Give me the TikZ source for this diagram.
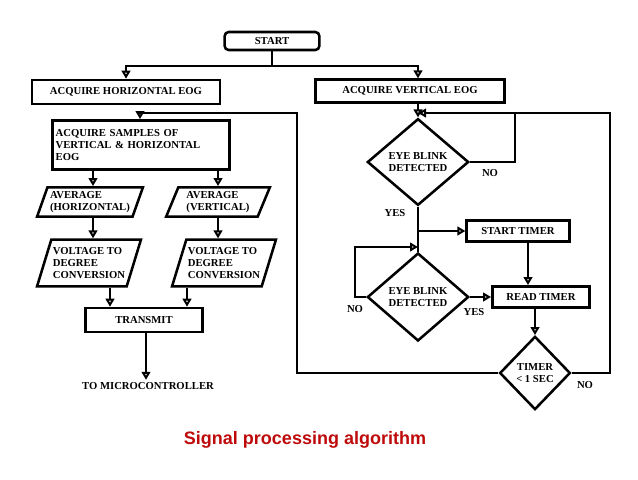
\documentclass[tikz,border=0pt]{standalone}
\usepackage{fontspec}
\setmainfont{Liberation Serif}
\newfontfamily\capfont{Liberation Sans}
\usetikzlibrary{shapes.geometric,arrows.meta}
\definecolor{capred}{RGB}{190,10,10}
\begin{document}
\begin{tikzpicture}[x=0.75pt,y=-0.75pt,
  every node/.style={font=\fontsize{8}{8.8}\selectfont\bfseries, line width=1.9pt, inner sep=1pt},
  box/.style={draw, rectangle},
  para/.style={draw, trapezium, trapezium left angle=67, trapezium right angle=113, trapezium stretches=true, align=left},
  dec/.style={draw, diamond, inner sep=0pt, align=center},
  ln/.style={line width=1.9pt},
  ar/.style={line width=1.9pt, -{Triangle[open,length=6pt,width=6.5pt]}}]
\useasboundingbox (0,0) rectangle (638,479);
% nodes
\node[box, rounded corners=3pt, minimum width=71pt, minimum height=13.5pt] (start) at (272,41) {START};
\node[box, minimum width=141pt, minimum height=18pt] (acqh) at (126,92) {ACQUIRE HORIZONTAL EOG};
\node[box, minimum width=142pt, minimum height=17pt] (acqv) at (410,91) {ACQUIRE VERTICAL EOG};
\node[box, minimum width=133pt, minimum height=37pt, text width=128pt, align=left] (samp) at (141,145) {ACQUIRE SAMPLES OF\\VERTICAL \& HORIZONTAL\\EOG};
\node[para, minimum width=80pt, minimum height=22pt] (avgh) at (90,202) {AVERAGE\\(HORIZONTAL)};
\node[para, minimum width=78pt, minimum height=22pt] (avgv) at (218,202) {AVERAGE\\(VERTICAL)};
\node[para, minimum width=78pt, minimum height=35pt] (volh) at (89,263) {VOLTAGE TO\\DEGREE\\CONVERSION};
\node[para, minimum width=78pt, minimum height=35pt] (volv) at (224,263) {VOLTAGE TO\\DEGREE\\CONVERSION};
\node[box, minimum width=88pt, minimum height=18pt] (trans) at (144,320) {TRANSMIT};
\node (micro) at (148,386) {TO MICROCONTROLLER};
\node[dec, minimum width=76pt, minimum height=65pt] (d1) at (418,162) {EYE BLINK\\DETECTED};
\node[dec, minimum width=76pt, minimum height=66pt] (d2) at (418,297) {EYE BLINK\\DETECTED};
\node[box, minimum width=77pt, minimum height=16pt] (stimer) at (518,231) {START TIMER};
\node[box, minimum width=73pt, minimum height=16pt] (rtimer) at (541,297) {READ TIMER};
\node[dec, minimum width=53pt, minimum height=55pt] (tdec) at (535,373) {TIMER\\< 1 SEC};
\node (yes1) at (395,213) {YES};
\node (no1) at (490,173) {NO};
\node (no2) at (355,309) {NO};
\node (yes2) at (474,312) {YES};
\node (no3) at (585,385) {NO};
\node[font=\capfont\bfseries\fontsize{13.5}{15}\selectfont, text=capred] (cap) at (305,440) {Signal processing algorithm};
% junctions
\coordinate (split) at (272,66);
\coordinate (top1) at (418,113);
\coordinate (loopl) at (140,113);
\coordinate (br) at (418,231);
\coordinate (back2) at (418,247);
% connectors
\draw[ln] (start.south) -- (split);
\draw[ar] (split) -| (acqh.north);
\draw[ar] (split) -| (acqv.north -| top1);
\draw[ar] (acqv.south -| top1) -- (d1.north);
\draw[ln] (d1.south) -- (d2.north);
\draw[ar] (br) -- (stimer.west);
\draw[ar] (d1.east) -| (515,113) -- (top1);
\draw[ar] (d2.west) -| (355,247) -- (back2);
\draw[ar] (d2.east) -- (rtimer.west);
\draw[ar] (stimer.south -| 528,0) -- (rtimer.north -| 528,0);
\draw[ar] (rtimer.south -| tdec) -- (tdec.north);
\draw[ln] (tdec.east) -| (610,113) -- (430,113);
\draw[ar] (tdec.west) -| (297,113) -- (loopl) -- (samp.north -| loopl);
\draw[ar] (samp.south -| 93,0) -- (avgh.north -| 93,0);
\draw[ar] (samp.south -| 218,0) -- (avgv.north -| 218,0);
\draw[ar] (avgh.south -| 93,0) -- (volh.north -| 93,0);
\draw[ar] (avgv.south -| 218,0) -- (volv.north -| 218,0);
\draw[ar] (volh.south -| 110,0) -- (trans.north -| 110,0);
\draw[ar] (volv.south -| 187,0) -- (trans.north -| 187,0);
\draw[ar] (trans.south -| 146,0) -- (micro.north -| 146,0);
\end{tikzpicture}
\end{document}
